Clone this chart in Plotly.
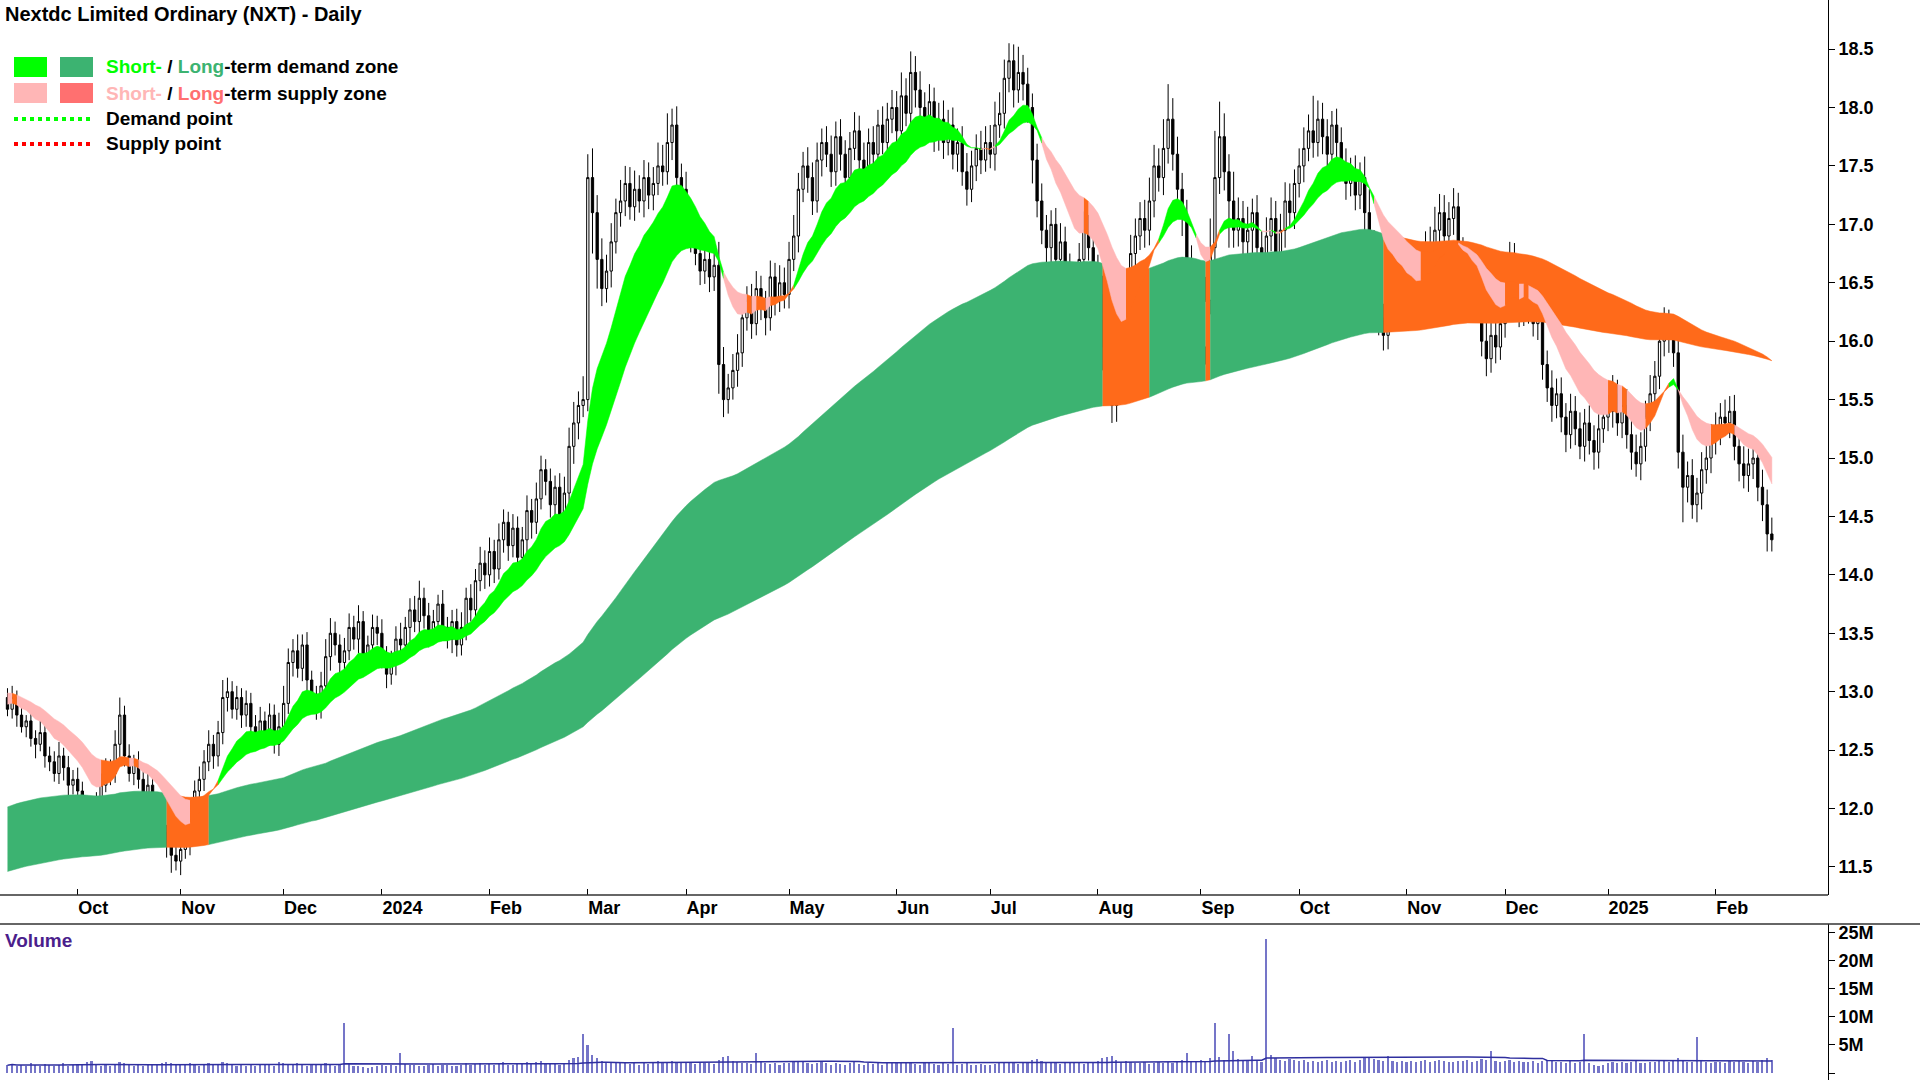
import numpy as np
import pandas as pd
import plotly.graph_objects as go

# daily closes, one block per month (Sep 2023 .. Feb 2025)
closes = (
    [12.85, 12.95, 12.80, 12.70, 12.75, 12.60, 12.55, 12.65, 12.45, 12.40, 12.30, 12.45, 12.35, 12.20, 12.25]
    + [12.15, 12.05, 11.90, 11.80, 12.05, 12.20, 12.35, 12.30, 12.55, 12.80, 12.45, 12.30, 12.40, 12.25, 12.10, 12.20, 12.05, 11.95, 11.80, 11.70, 11.60, 11.55]
    + [11.65, 11.70, 11.95, 12.15, 12.25, 12.40, 12.55, 12.45, 12.65, 12.95, 13.00, 12.85, 12.95, 12.80, 12.90, 12.70, 12.60, 12.75, 12.65, 12.80, 12.55, 12.70]
    + [12.90, 13.25, 13.35, 13.20, 13.40, 13.10, 12.95, 12.85, 13.05, 13.30, 13.50, 13.40, 13.25, 13.35, 13.55, 13.45, 13.60, 13.30, 13.40, 13.55, 13.50]
    + [13.30, 13.15, 13.25, 13.45, 13.40, 13.55, 13.70, 13.60, 13.80, 13.65, 13.50, 13.60, 13.75, 13.55, 13.45, 13.60, 13.40, 13.55, 13.80, 13.70, 13.95, 14.10, 14.00]
    + [14.20, 14.05, 14.30, 14.45, 14.25, 14.40, 14.15, 14.30, 14.55, 14.45, 14.65, 14.90, 14.80, 14.60, 14.75, 14.50, 14.70, 15.10, 15.30, 15.45, 15.50]
    + [17.40, 17.10, 16.70, 16.45, 16.60, 16.85, 17.10, 17.20, 17.35, 17.15, 17.30, 17.20, 17.40, 17.25, 17.35, 17.50, 17.45, 17.70, 17.85, 17.40, 17.30]
    + [17.00, 16.90, 16.75, 16.60, 16.70, 16.55, 16.65, 15.80, 15.50, 15.60, 15.75, 15.90, 16.20, 16.35, 16.15, 16.45, 16.30, 16.20, 16.55, 16.35, 16.50, 16.40]
    + [16.70, 16.90, 17.30, 17.50, 17.40, 17.20, 17.55, 17.70, 17.60, 17.45, 17.75, 17.60, 17.40, 17.65, 17.80, 17.55, 17.45, 17.70, 17.60, 17.85, 17.70, 17.90, 18.00]
    + [17.80, 18.10, 17.95, 18.30, 18.15, 18.00, 17.85, 18.05, 17.75, 17.90, 17.70, 17.85, 17.60, 17.70, 17.45, 17.30, 17.50, 17.65, 17.55, 17.70]
    + [17.60, 17.85, 17.95, 18.25, 18.40, 18.15, 18.30, 18.20, 18.00, 17.55, 17.20, 16.95, 16.80, 17.00, 16.70, 16.85, 16.60, 16.50, 16.40, 16.70, 16.95, 16.80, 16.60]
    + [16.40, 15.95, 15.70, 15.45, 15.60, 15.80, 16.30, 16.75, 16.90, 17.05, 16.95, 17.20, 17.50, 17.40, 17.65, 17.90, 17.60, 17.30, 17.05, 16.70, 16.40, 16.20]
    + [15.95, 16.35, 16.80, 17.40, 17.75, 17.45, 17.20, 16.95, 17.05, 16.85, 16.95, 17.10, 16.80, 16.70, 16.90, 17.05, 16.75, 16.95, 17.20, 17.10, 17.35]
    + [17.50, 17.65, 17.80, 17.70, 17.90, 17.75, 17.60, 17.85, 17.70, 17.50, 17.35, 17.45, 17.25, 17.40, 17.10, 16.80, 16.40, 16.20, 16.05, 16.30, 16.50, 16.35, 16.45]
    + [16.25, 16.40, 16.30, 16.55, 16.80, 16.70, 16.95, 17.10, 16.90, 17.05, 17.15, 16.75, 16.50, 16.60, 16.35, 16.40, 16.00, 15.85, 16.05, 15.95, 16.15]
    + [16.40, 16.70, 16.45, 16.25, 16.50, 16.30, 16.15, 16.20, 15.80, 15.60, 15.45, 15.55, 15.35, 15.20, 15.40, 15.25, 15.10, 15.30, 15.15, 15.05, 15.25, 15.35]
    + [15.40, 15.55, 15.30, 15.45, 15.20, 15.05, 14.95, 15.10, 15.35, 15.55, 15.70, 16.00, 16.15, 16.05, 15.90, 15.05, 14.75, 14.85, 14.60, 14.70, 14.90, 15.00, 15.15]
    + [15.25, 15.35, 15.30, 15.40, 15.10, 14.95, 14.85, 14.95, 15.00, 14.75, 14.60, 14.35, 14.30]
)
first_open = 12.95

# wick extensions above / below the candle body, in cents
hi_ext = (
    [8, 10, 6, 12, 5, 9, 7, 10, 6, 8, 9, 12, 7, 10, 8]
    + [10, 8, 6, 12, 9, 10, 8, 7, 12, 15, 8, 10, 6, 9, 8, 12, 7, 9, 10, 6, 8, 10]
    + [10, 12, 8, 9, 11, 10, 12, 8, 10, 15, 12, 9, 10, 8, 11, 9, 10, 12, 8, 10, 9, 12]
    + [15, 12, 10, 14, 9, 11, 8, 10, 12, 15, 13, 10, 9, 11, 12, 10, 14, 9, 8, 11, 10]
    + [12, 9, 10, 11, 14, 9, 10, 12, 15, 9, 11, 10, 8, 12, 9, 10, 11, 13, 9, 12, 10, 14, 11]
    + [12, 10, 14, 11, 9, 12, 10, 11, 13, 10, 14, 12, 9, 11, 10, 12, 14, 16, 18, 12, 20]
    + [20, 25, 15, 18, 14, 16, 12, 18, 15, 14, 16, 12, 15, 13, 14, 20, 18, 25, 14, 16, 12]
    + [15, 12, 14, 10, 12, 11, 13, 20, 15, 12, 14, 16, 18, 12, 14, 15, 11, 13, 14, 12, 15, 13]
    + [15, 18, 14, 12, 16, 13, 15, 12, 14, 16, 13, 15, 12, 14, 16, 13, 15, 12, 14, 13, 16, 14, 15]
    + [14, 20, 15, 18, 14, 16, 13, 15, 12, 14, 16, 13, 15, 12, 14, 16, 13, 12, 15, 14]
    + [15, 20, 18, 16, 15, 14, 22, 15, 14, 12, 14, 15, 13, 12, 14, 16, 13, 15, 12, 14, 16, 13, 15]
    + [14, 16, 12, 15, 14, 18, 20, 16, 15, 14, 16, 20, 18, 15, 25, 30, 18, 15, 14, 16, 12, 14]
    + [15, 20, 25, 40, 30, 20, 15, 25, 18, 15, 20, 12, 15, 14, 16, 18, 15, 14, 16, 15, 12]
    + [15, 18, 14, 30, 16, 14, 15, 12, 14, 13, 15, 12, 14, 13, 18, 20, 15, 14, 12, 15, 14, 13, 12]
    + [14, 16, 12, 15, 14, 18, 20, 16, 15, 14, 16, 12, 14, 13, 15, 12, 14, 16, 13, 15, 12]
    + [20, 15, 14, 16, 15, 14, 12, 15, 14, 12, 15, 13, 14, 12, 15, 13, 14, 12, 15, 13, 14, 12]
    + [14, 16, 12, 15, 14, 13, 15, 12, 14, 16, 13, 15, 14, 12, 16, 13, 15, 12, 14, 13, 15, 12, 14]
    + [14, 12, 15, 13, 14, 12, 15, 13, 14, 12, 15, 13, 14]
)
lo_ext = (
    [6, 8, 10, 5, 9, 7, 12, 6, 10, 8, 7, 9, 11, 25, 8]
    + [8, 12, 20, 15, 7, 9, 6, 10, 8, 12, 9, 7, 10, 8, 12, 6, 9, 11, 10, 12, 15, 8]
    + [12, 8, 10, 9, 7, 10, 8, 11, 9, 10, 12, 8, 9, 11, 10, 12, 8, 9, 10, 11, 8, 10]
    + [10, 9, 12, 8, 11, 10, 14, 9, 8, 10, 12, 9, 11, 10, 8, 9, 12, 10, 11, 9, 10]
    + [10, 12, 9, 11, 8, 10, 12, 9, 10, 11, 12, 9, 10, 11, 8, 12, 10, 9, 11, 10, 8, 9, 12]
    + [10, 12, 9, 11, 13, 10, 12, 9, 11, 14, 10, 9, 12, 11, 13, 10, 9, 12, 15, 14, 10]
    + [10, 35, 25, 15, 12, 14, 10, 12, 13, 11, 12, 10, 14, 12, 13, 10, 12, 11, 15, 14, 12]
    + [12, 14, 10, 12, 11, 13, 12, 25, 15, 12, 10, 14, 12, 11, 13, 10, 12, 15, 11, 13, 10, 12]
    + [12, 10, 14, 11, 13, 12, 10, 14, 11, 13, 12, 14, 11, 13, 10, 12, 14, 11, 13, 12, 10, 14, 12]
    + [12, 14, 11, 13, 15, 12, 14, 11, 13, 12, 14, 11, 13, 15, 12, 14, 11, 13, 12, 10]
    + [12, 14, 11, 13, 12, 15, 11, 14, 13, 20, 14, 12, 15, 13, 14, 12, 15, 14, 13, 12, 14, 11, 13]
    + [15, 20, 18, 15, 14, 12, 15, 13, 14, 12, 15, 13, 14, 12, 15, 13, 14, 12, 15, 13, 14, 12]
    + [20, 15, 12, 18, 14, 16, 40, 15, 14, 12, 15, 20, 14, 12, 15, 13, 14, 12, 15, 13, 14]
    + [12, 14, 11, 13, 12, 15, 11, 14, 13, 12, 14, 11, 13, 12, 15, 14, 20, 15, 13, 12, 14, 11, 13]
    + [12, 14, 11, 13, 12, 15, 11, 14, 13, 12, 14, 11, 13, 15, 12, 14, 13, 15, 12, 14, 11]
    + [12, 14, 11, 13, 12, 15, 11, 14, 13, 12, 14, 11, 13, 15, 12, 14, 11, 13, 12, 15, 14, 12]
    + [12, 14, 11, 13, 12, 15, 11, 14, 13, 12, 14, 11, 13, 15, 12, 14, 30, 13, 12, 15, 14, 12, 13]
    + [12, 14, 11, 13, 12, 15, 11, 14, 13, 12, 14, 15, 10]
)

# daily volume, millions
volumes = (
    [1.4, 1.6, 1.3, 1.5, 1.2, 1.8, 1.4, 1.3, 1.6, 1.5, 1.2, 1.4, 1.7, 1.3, 1.5]
    + [1.6, 1.4, 1.9, 2.1, 1.5, 1.3, 1.4, 1.2, 1.6, 2.0, 1.7, 1.4, 1.3, 1.5, 1.2, 1.4, 1.6, 1.5, 1.8, 1.9, 1.7, 1.5]
    + [1.6, 1.4, 1.8, 1.5, 1.3, 1.6, 1.7, 1.4, 1.5, 1.9, 1.8, 1.4, 1.3, 1.5, 1.2, 1.4, 1.3, 1.6, 1.5, 1.4, 1.2, 2.0]
    + [1.7, 1.5, 1.6, 1.8, 1.4, 1.3, 1.5, 1.6, 1.4, 1.7, 1.5, 1.3, 1.4, 9.0, 1.6, 1.3, 1.2, 1.0, 0.9, 1.1, 1.3]
    + [1.4, 1.2, 1.5, 1.3, 3.5, 1.6, 1.4, 1.5, 1.3, 1.2, 1.4, 1.6, 1.3, 1.5, 1.4, 1.2, 1.3, 1.5, 1.7, 1.4, 1.6, 1.8, 1.5]
    + [1.6, 1.5, 1.7, 1.9, 1.5, 1.4, 1.6, 1.8, 2.0, 1.7, 1.9, 2.2, 1.8, 1.6, 1.7, 1.5, 1.8, 2.4, 2.6, 2.9, 7.0]
    + [5.0, 3.2, 2.6, 2.2, 1.9, 2.0, 1.8, 1.7, 1.9, 1.6, 1.8, 1.5, 1.7, 1.6, 1.9, 2.1, 1.8, 2.0, 2.2, 1.9, 1.7]
    + [1.8, 1.7, 1.6, 1.9, 1.8, 1.7, 1.6, 2.4, 2.8, 3.0, 2.2, 1.9, 1.7, 1.8, 1.6, 3.5, 1.9, 1.7, 1.6, 1.8, 1.5, 1.7]
    + [1.8, 1.9, 2.1, 2.0, 1.7, 1.6, 1.8, 1.9, 1.7, 1.5, 1.8, 1.6, 1.5, 1.7, 1.9, 1.6, 1.5, 1.7, 1.6, 1.8, 1.5, 1.7, 1.9]
    + [1.8, 2.0, 1.7, 1.9, 1.6, 1.5, 1.7, 1.8, 1.6, 1.5, 1.7, 1.6, 8.0, 1.4, 1.6, 1.8, 1.5, 1.4, 1.6, 1.5]
    + [1.5, 1.6, 1.7, 1.9, 2.0, 1.7, 1.6, 1.8, 1.9, 2.3, 2.5, 2.1, 1.9, 1.7, 1.8, 1.6, 1.9, 1.8, 2.0, 1.7, 1.6, 1.8, 1.9]
    + [2.1, 2.6, 2.8, 3.0, 2.4, 2.0, 2.2, 1.9, 1.8, 1.7, 1.9, 1.6, 1.8, 2.0, 1.7, 1.9, 1.8, 2.1, 2.3, 3.5, 2.2, 2.0]
    + [2.4, 2.2, 2.6, 9.0, 2.8, 2.3, 7.0, 4.0, 2.5, 2.1, 2.3, 3.0, 2.2, 2.0, 24.0, 3.2, 2.6, 2.4, 2.2, 2.5, 2.3]
    + [2.1, 2.3, 2.0, 2.2, 1.9, 2.1, 2.4, 2.0, 2.2, 1.9, 2.1, 2.3, 2.0, 2.4, 2.6, 2.9, 2.5, 2.3, 2.1, 3.0, 2.2, 2.0, 2.1]
    + [2.0, 2.2, 1.9, 2.1, 2.3, 2.0, 2.2, 2.4, 2.1, 1.9, 2.0, 2.2, 2.1, 2.3, 2.0, 2.2, 2.5, 2.3, 4.0, 2.1, 2.0]
    + [2.1, 2.3, 2.0, 2.2, 1.9, 2.0, 2.1, 1.8, 2.2, 2.4, 2.1, 1.9, 2.0, 1.8, 2.1, 1.7, 1.9, 7.0, 1.8, 1.5, 1.2, 1.4]
    + [1.8, 1.9, 1.7, 2.0, 1.8, 1.9, 2.1, 1.8, 1.7, 1.9, 2.0, 2.2, 2.1, 1.9, 2.3, 2.6, 2.2, 2.0, 1.9, 6.5, 2.1, 1.9, 1.8]
    + [1.9, 2.0, 1.8, 2.1, 1.9, 2.2, 2.0, 1.8, 2.1, 1.9, 2.3, 2.6, 2.4]
)

# starting levels of the moving averages (carried in from before the window)
ema_start = {12: 12.90, 26: 13.00, 120: 12.00, 240: 11.45}

FONT = "Liberation Sans"
GREEN_S, GREEN_L = "#00FF00", "#3CB371"
PINK_S, RED_L = "#FFB6B6", "#FF7070"
ORANGE = "#FF6A1A"

n = len(closes)
assert len(hi_ext) == n and len(lo_ext) == n and len(volumes) == n
dates = pd.bdate_range("2023-09-11", periods=n)
x = np.arange(n)

c = np.array(closes)
o = np.concatenate([[first_open], c[:-1]])
h = np.maximum(o, c) + np.array(hi_ext) / 100
l = np.minimum(o, c) - np.array(lo_ext) / 100


def ema(period):
    a = 2 / (period + 1)
    out, v = [], ema_start[period]
    for p in c:
        v = v + a * (p - v)
        out.append(v)
    return np.array(out)


fast, slow = ema(12), ema(26)
lt_a, lt_b = ema(120), ema(240)
s_up, s_lo = np.maximum(fast, slow), np.minimum(fast, slow)
l_up, l_lo = np.maximum(lt_a, lt_b), np.minimum(lt_a, lt_b)

s_col = []
for i in range(n):
    if fast[i] >= slow[i]:
        s_col.append(GREEN_S)
    elif i > 0 and fast[i] >= fast[i - 1]:
        s_col.append(ORANGE)
    else:
        s_col.append(PINK_S)
l_col = [ORANGE if s_lo[i] < l_up[i] else GREEN_L for i in range(n)]

fig = go.Figure()


def add_band(up, lo, cols):
    start = 0
    for i in range(1, n + 1):
        if i == n or cols[i] != cols[start]:
            end = min(i, n - 1)
            xs = list(x[start:end + 1]) + list(x[start:end + 1][::-1])
            ys = list(up[start:end + 1]) + list(lo[start:end + 1][::-1])
            fig.add_trace(go.Scatter(x=xs, y=ys, fill="toself", fillcolor=cols[start],
                                     line=dict(width=0.5, color=cols[start]), mode="lines",
                                     hoverinfo="skip", showlegend=False))
            start = i


add_band(l_up, l_lo, l_col)
add_band(s_up, s_lo, s_col)

fig.add_trace(go.Candlestick(x=x, open=o, high=h, low=l, close=c, whiskerwidth=0,
                             increasing=dict(line=dict(color="black", width=1), fillcolor="white"),
                             decreasing=dict(line=dict(color="black", width=1), fillcolor="black"),
                             showlegend=False))

vol = np.array(volumes)
vol_ma = pd.Series(vol).rolling(60, min_periods=1).mean()
fig.add_trace(go.Bar(x=x, y=vol, width=0.35, marker=dict(color="#7575C8", line_width=0),
                     xaxis="x2", yaxis="y2", showlegend=False))
fig.add_trace(go.Scatter(x=x, y=vol_ma, mode="lines", line=dict(color="#2F2F9F", width=1.5),
                         xaxis="x2", yaxis="y2", showlegend=False))

# month ticks
tickvals, ticktext = [], []
for i in range(1, n):
    if dates[i].month != dates[i - 1].month:
        tickvals.append(i)
        ticktext.append(str(dates[i].year) if dates[i].month == 1 else dates[i].strftime("%b"))

XR = [-1.6, 389]
XD = [0, 1828 / 1920]
tick_font = dict(family=FONT, size=18, color="black", weight="bold")
fig.update_layout(
    width=1920, height=1080, margin=dict(l=0, r=0, t=0, b=0, autoexpand=False),
    plot_bgcolor="white", paper_bgcolor="white", bargap=0,
    xaxis=dict(domain=XD, range=XR, anchor="y", tickvals=tickvals, ticktext=ticktext,
               ticks="inside", ticklen=6, tickcolor="black", showgrid=False, zeroline=False,
               ticklabelposition="outside right", tickfont=tick_font, rangeslider=dict(visible=False),
               automargin=False),
    yaxis=dict(domain=[185 / 1080, 1], range=[11.26, 18.92], side="right", anchor="x",
               tickvals=[11.5 + 0.5 * k for k in range(15)], tickformat=".1f",
               ticks="outside", ticklen=6, tickcolor="black", showgrid=False, zeroline=False,
               tickfont=tick_font, showline=True, linecolor="black", automargin=False),
    xaxis2=dict(domain=XD, range=XR, anchor="y2", showticklabels=False, showgrid=False, zeroline=False,
                automargin=False),
    yaxis2=dict(domain=[0, 156 / 1080], range=[-1.25, 26.6], side="right", anchor="x2",
                tickvals=[0, 5, 10, 15, 20, 25], ticktext=["0", "5M", "10M", "15M", "20M", "25M"],
                ticks="outside", ticklen=6, tickcolor="black", showgrid=False, zeroline=False,
                tickfont=tick_font, showline=True, linecolor="black", automargin=False),
)

# frame lines
fig.add_shape(type="line", xref="paper", yref="paper", x0=0, x1=XD[1], y0=185 / 1080, y1=185 / 1080,
              line=dict(color="#333", width=1.5))
fig.add_shape(type="line", xref="paper", yref="paper", x0=0, x1=1, y0=156 / 1080, y1=156 / 1080,
              line=dict(color="#333", width=1.5))

# title and legend
fig.add_annotation(xref="paper", yref="paper", x=3 / 1920, y=1 - 14 / 1080, xanchor="left", yanchor="middle",
                   text="Nextdc Limited Ordinary (NXT) - Daily", showarrow=False,
                   font=dict(family=FONT, size=20, color="black", weight="bold"))
fig.add_annotation(xref="paper", yref="paper", x=3 / 1920, y=156 / 1080 - 16 / 1080, xanchor="left",
                   yanchor="middle", text="Volume", showarrow=False,
                   font=dict(family=FONT, size=19, color="#4B1E8C", weight="bold"))


def px(xp, yp):
    return xp / 1920, 1 - yp / 1080


rows = [
    (GREEN_S, GREEN_L, f"<span style='color:{GREEN_S}'>Short-</span> / <span style='color:{GREEN_L}'>Long</span>-term demand zone"),
    (PINK_S, RED_L, f"<span style='color:{PINK_S}'>Short-</span> / <span style='color:{RED_L}'>Long</span>-term supply zone"),
]
for k, (c1, c2, txt) in enumerate(rows):
    yc = 67 + 26 * k
    for x0, col in ((14, c1), (60, c2)):
        a0, b0 = px(x0, yc - 10)
        a1, b1 = px(x0 + 33, yc + 10)
        fig.add_shape(type="rect", xref="paper", yref="paper", x0=a0, x1=a1, y0=b1, y1=b0,
                      fillcolor=col, line_width=0)
    ax, ay = px(104, yc)
    fig.add_annotation(xref="paper", yref="paper", x=ax, y=ay, xanchor="left", yanchor="middle", text=txt,
                       showarrow=False, font=dict(family=FONT, size=19, color="black", weight="bold"))
for k, (col, txt) in enumerate((("#00FF00", "Demand point"), ("#FF0000", "Supply point"))):
    yc = 119 + 25 * k
    a0, b0 = px(14, yc)
    a1, _ = px(92, yc)
    fig.add_shape(type="line", xref="paper", yref="paper", x0=a0, x1=a1, y0=b0, y1=b0,
                  line=dict(color=col, width=4, dash="dot"))
    ax, ay = px(104, yc)
    fig.add_annotation(xref="paper", yref="paper", x=ax, y=ay, xanchor="left", yanchor="middle", text=txt,
                       showarrow=False, font=dict(family=FONT, size=19, color="black", weight="bold"))

fig.write_html("out.html", config={"displayModeBar": False},
               post_script="document.body.style.margin='0';")
